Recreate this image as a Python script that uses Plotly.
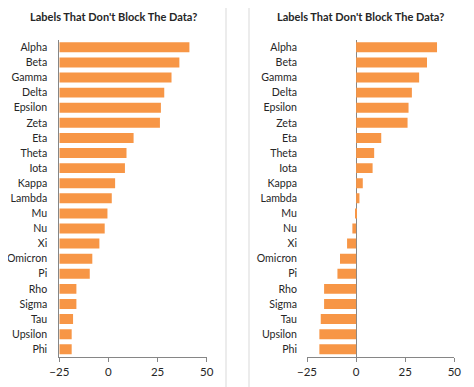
import plotly.graph_objects as go

categories = ["Alpha", "Beta", "Gamma", "Delta", "Epsilon", "Zeta", "Eta", "Theta", "Iota",
              "Kappa", "Lambda", "Mu", "Nu", "Xi", "Omicron", "Pi", "Rho", "Sigma", "Tau",
              "Upsilon", "Phi"]
values = [41.2, 36.1, 32.1, 28.4, 26.7, 26.2, 12.8, 9.2, 8.4, 3.4, 1.7, -0.5, -1.9, -4.6,
          -8.2, -9.5, -16.3, -16.3, -18.0, -18.7, -18.7]
tick_vals = [-25, 0, 25, 50]
title_text = "Labels That Don't Block The Data?"

OFF = 8  # default page body margin
W, H = 474 - OFF, 387 - OFF
axis_min, axis_max = -25, 50
BAR = "#F79646"
AX = "#868686"
TXT = "#262626"
FONT = "Lato"


def px(x):
    return (x - OFF) / W


def py(y):
    return 1 - (y - OFF) / H


fig = go.Figure()

# Left panel: bars anchored at the axis minimum
fig.add_trace(go.Bar(
    y=categories, x=[v - axis_min for v in values], base=axis_min,
    orientation="h", marker=dict(color=BAR, line=dict(width=0)),
    xaxis="x", yaxis="y", showlegend=False))

# Right panel: bars from zero
fig.add_trace(go.Bar(
    y=categories, x=values,
    orientation="h", marker=dict(color=BAR, line=dict(width=0)),
    xaxis="x2", yaxis="y2", showlegend=False))

ydom = [py(356.8), py(39.8)]
xdom1 = [px(59.3), px(206.7)]
xdom2 = [px(307.0), px(454.3)]

xcommon = dict(range=[axis_min, axis_max], tickvals=tick_vals, showgrid=False,
               showline=True, linecolor=AX, linewidth=1, ticks="outside", ticklen=4,
               tickcolor=AX, tickfont=dict(family=FONT, size=11.5, color=TXT),
               fixedrange=True, automargin=False)
ycommon = dict(autorange="reversed", showgrid=False, ticks="",
               ticklabelstandoff=9, automargin=False,
               tickfont=dict(family=FONT, size=10.6, color=TXT), domain=ydom)

fig.update_layout(
    template="none",
    width=W, height=H, margin=dict(l=0, r=0, t=0, b=0),
    paper_bgcolor="white", plot_bgcolor="white", bargap=0.34,
    xaxis=dict(domain=xdom1, anchor="y", zeroline=False, **xcommon),
    yaxis=dict(anchor="x", showline=True, linecolor=AX, linewidth=1, zeroline=False, **ycommon),
    xaxis2=dict(domain=xdom2, anchor="y2", zeroline=True, zerolinecolor=AX,
                zerolinewidth=1, **xcommon),
    yaxis2=dict(anchor="x2", showline=False, zeroline=False, **ycommon),
    annotations=[
        dict(text="<b>" + title_text + "</b>", x=px(113), y=py(16.5),
             xref="paper", yref="paper", showarrow=False, xanchor="center",
             yanchor="middle", font=dict(family=FONT, size=11, color=TXT)),
        dict(text="<b>" + title_text + "</b>", x=px(360.3), y=py(16.5),
             xref="paper", yref="paper", showarrow=False, xanchor="center",
             yanchor="middle", font=dict(family=FONT, size=11, color=TXT)),
    ],
    shapes=[
        dict(type="line", xref="paper", yref="paper", x0=px(226), x1=px(226),
             y0=0, y1=1, line=dict(color="#D9D9D9", width=1)),
        dict(type="line", xref="paper", yref="paper", x0=px(249), x1=px(249),
             y0=0, y1=1, line=dict(color="#D9D9D9", width=1)),
    ],
)

fig.write_html("out.html")
